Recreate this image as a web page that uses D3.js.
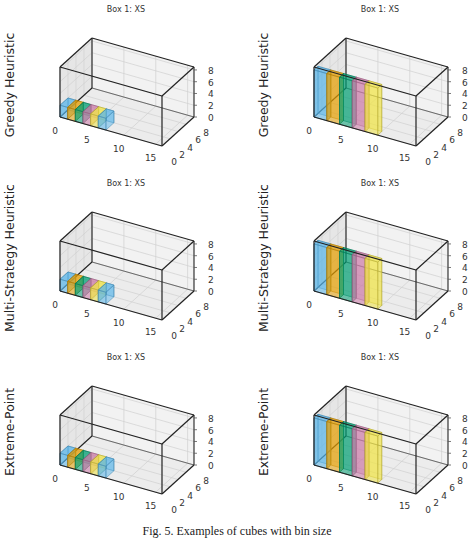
<!DOCTYPE html>
<html><head><meta charset="utf-8">
<script src="https://cdn.jsdelivr.net/npm/d3@7"></script>
<style>body{margin:0;background:#fff}</style></head>
<body><svg id="c" width="474" height="539"></svg>
<script>
const rowLabels = ["Greedy Heuristic","Multi-Strategy Heuristic","Extreme-Point"];
const panelTitle = "Box 1: XS";
const xTicks = [0,5,10,15], yTicks = [0,2,4,6,8], zTicks = [0,2,4,6,8];
const colors = ["#56B4E9","#E69F00","#009E73","#CC79A7","#F0E442","#56B4E9"];
// small cubes: [x, y, z, dx, dy, dz]
const cubesLeft = [[0,0,0,1.2,2,2],[1.2,0,0,1.2,2,2],[2.4,0,0,1.2,2,2],[3.6,0,0,1.2,2,2],[4.8,0,0,1.2,2,2],[6,0,0,1.2,2,2]];
// tall bars
const barsRight = [[0,0,0,2,1,8],[2,0,0,2,1,8],[4,0,0,2,1,8],[6,0,0,2,1,8],[8,0,0,2,1,8]];
const origins = [[60,117],[314,117],[60,291],[314,291],[60,465],[314,465]];
const titleY = [12,12,186,186,360,360];
const labelY = [85,85,258,258,432,432];
const caption = "Fig. 5.  Examples of cubes with bin size";

const XM=16, YM=8, ZM=8.5;
const svg = d3.select("#c");
const sxX=d3.scaleLinear().domain([0,XM]).range([0,102]), sxY=d3.scaleLinear().domain([0,XM]).range([0,29]);
const syX=d3.scaleLinear().domain([0,YM]).range([0,32]), syY=d3.scaleLinear().domain([0,YM]).range([0,-29]);
const sz=d3.scaleLinear().domain([0,ZM]).range([0,-50]);

origins.forEach((o,i)=>{
  const P=(x,y,z)=>[o[0]+sxX(x)+syX(y), o[1]+sxY(x)+syY(y)+sz(z)];
  const g=svg.append("g");
  const poly=(pts,fill,stroke,sw,op)=>g.append("polygon").attr("points",pts.map(p=>p.join(",")).join(" "))
     .attr("fill",fill).attr("fill-opacity",op??1).attr("stroke",stroke).attr("stroke-width",sw);
  const line=(a,b,c,w)=>g.append("line").attr("x1",a[0]).attr("y1",a[1]).attr("x2",b[0]).attr("y2",b[1]).attr("stroke",c).attr("stroke-width",w);
  poly([P(0,YM,0),P(XM,YM,0),P(XM,YM,ZM),P(0,YM,ZM)],"#f2f2f2","none",0);
  poly([P(0,0,0),P(0,YM,0),P(0,YM,ZM),P(0,0,ZM)],"#e6e6e6","none",0);
  poly([P(0,0,0),P(XM,0,0),P(XM,YM,0),P(0,YM,0)],"#ececec","none",0);
  const gc="#d0d0d0";
  xTicks.forEach(t=>{line(P(t,0,0),P(t,YM,0),gc,0.7);line(P(t,YM,0),P(t,YM,ZM),gc,0.7);});
  yTicks.forEach(t=>{line(P(0,t,0),P(XM,t,0),gc,0.7);line(P(0,t,0),P(0,t,ZM),gc,0.7);});
  zTicks.forEach(t=>{line(P(0,YM,t),P(XM,YM,t),gc,0.7);line(P(0,0,t),P(0,YM,t),gc,0.7);});
  const k="#222";
  line(P(0,YM,0),P(0,YM,ZM),k,1.1);line(P(0,0,0),P(0,YM,0),k,1.1);line(P(0,YM,0),P(XM,YM,0),k,0.6);
  line(P(XM,YM,0),P(XM,YM,ZM),k,1.1);
  const data = i%2===0?cubesLeft:barsRight;
  data.forEach((b,j)=>{
    const [x,y,z,dx,dy,dz]=b, c=colors[j], s=d3.color(c).darker(0.8);
    const X1=x+dx,Y1=y+dy,Z1=z+dz;
    poly([P(x,Y1,z),P(X1,Y1,z),P(X1,Y1,Z1),P(x,Y1,Z1)],c,s,0.5,0.35);
    poly([P(x,y,z),P(x,Y1,z),P(x,Y1,Z1),P(x,y,Z1)],c,s,0.5,0.35);
    poly([P(X1,y,z),P(X1,Y1,z),P(X1,Y1,Z1),P(X1,y,Z1)],c,s,0.5,0.5);
    poly([P(x,y,Z1),P(X1,y,Z1),P(X1,Y1,Z1),P(x,Y1,Z1)],c,s,0.5,0.6);
    poly([P(x,y,z),P(X1,y,z),P(X1,y,Z1),P(x,y,Z1)],c,s,0.5,0.55);
  });
  [[P(0,0,0),P(XM,0,0)],[P(XM,0,0),P(XM,0,ZM)],[P(XM,0,ZM),P(0,0,ZM)],[P(0,0,ZM),P(0,0,0)],
   [P(0,0,ZM),P(0,YM,ZM)],[P(0,YM,ZM),P(XM,YM,ZM)],[P(XM,YM,ZM),P(XM,0,ZM)],[P(XM,0,0),P(XM,YM,0)]]
   .forEach(e=>line(e[0],e[1],k,1.2));
  const tf=g.append("g").attr("font-family","DejaVu Sans").attr("font-size",9).attr("fill","#333");
  xTicks.forEach(t=>{const p=P(t,0,0);tf.append("text").attr("x",p[0]-5).attr("y",p[1]+17).attr("text-anchor","middle").text(t);});
  yTicks.forEach(t=>{const p=P(XM,t,0);tf.append("text").attr("x",p[0]+12).attr("y",p[1]+19).attr("text-anchor","middle").text(t);});
  zTicks.forEach(t=>{const p=P(XM,YM,t);line(p,[p[0]+3,p[1]],"#555",0.8);
    tf.append("text").attr("x",p[0]+14).attr("y",p[1]+4).attr("text-anchor","start").text(t);});
  svg.append("text").attr("x",o[0]+66).attr("y",titleY[i]).attr("text-anchor","middle")
    .attr("font-family","DejaVu Sans").attr("font-size",8).attr("fill","#333").text(panelTitle);
  const lx = i%2===0?14:268;
  svg.append("text").attr("transform",`translate(${lx},${labelY[i]}) rotate(-90)`).attr("text-anchor","middle")
    .attr("font-family","DejaVu Sans").attr("font-size",12.5).attr("fill","#222").text(rowLabels[Math.floor(i/2)]);
});
svg.append("text").attr("x",237).attr("y",535).attr("text-anchor","middle").attr("font-family","Liberation Serif")
  .attr("font-size",12).attr("fill","#222").text(caption);
</script></body></html>
